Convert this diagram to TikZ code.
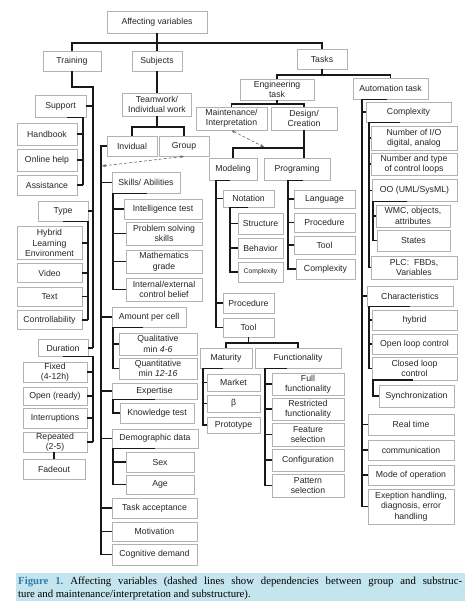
\documentclass[tikz,border=0pt]{standalone}
\usepackage{fontspec}
\setmainfont{Liberation Serif}
\newfontfamily\boxfont{Liberation Sans}
\usetikzlibrary{arrows.meta}
\definecolor{capbg}{RGB}{196,228,238}
\definecolor{capblue}{RGB}{50,125,165}
\newcommand\bx[6]{\node[bx,minimum width=#4pt,minimum height=#5pt] (#1) at (#2,#3) {#6};}
\begin{document}
\begin{tikzpicture}[x=1pt,y=-1pt,
  bx/.style={draw=black!30,line width=0.8pt,fill=white,inner sep=0.5pt,align=center,font=\boxfont\fontsize{8.7}{10.5}\selectfont,text=black!85},
  ln/.style={line width=1.4pt,black!90},
  dep/.style={densely dashed,line width=0.6pt,black!60,{Stealth[length=4pt,width=3pt]}-{Stealth[length=4pt,width=3pt]}}]
\useasboundingbox (0,0) rectangle (474,602);
\fill[white] (0,0) rectangle (474,602);
% top
\bx{aff}{157}{22}{100}{22}{Affecting variables}
\bx{training}{72}{61}{58}{20}{Training}
\bx{subjects}{157}{61}{50}{20}{Subjects}
\bx{tasks}{322}{59}{50}{20}{Tasks}
% training column
\bx{support}{60.5}{106}{51}{22}{Support}
\bx{handbook}{47}{134}{60}{22}{Handbook}
\bx{online}{47}{160}{60}{22}{Online help}
\bx{assist}{47}{185}{60}{20}{Assistance}
\bx{type}{63}{211}{50}{20}{Type}
\bx{hybrid}{49.5}{243}{65}{33}{Hybrid\\Learning\\Environment}
\bx{video}{49.5}{273}{65}{19}{Video}
\bx{text}{49.5}{296.5}{65}{19}{Text}
\bx{control}{49.5}{320}{65}{19}{Controllability}
\bx{duration}{63}{348}{50}{17}{Duration}
\bx{fixed}{55}{372}{64}{20}{Fixed\\(4-12h)}
\bx{open}{55}{396}{64}{18}{Open (ready)}
\bx{interr}{55}{418}{64}{20}{Interruptions}
\bx{repeated}{55}{442}{64}{20}{Repeated\\(2-5)}
\bx{fadeout}{54}{469}{62}{20}{Fadeout}
% subjects column
\bx{team}{157}{104.5}{69}{23}{Teamwork/\\Individual work}
\bx{invid}{132}{146}{50}{20}{Invidual}
\bx{group}{184}{146}{50}{20}{Group}
\bx{skills}{146}{182.5}{68}{21}{Skills/ Abilities}
\bx{intel}{163}{209}{78}{20}{Intelligence test}
\bx{problem}{164}{233.5}{76}{23}{Problem solving\\skills}
\bx{math}{164}{261.5}{76}{23}{Mathematics\\grade}
\bx{internal}{164}{289.5}{76}{23}{Internal/external\\control belief}
\bx{amount}{149}{317}{74}{20}{Amount per cell}
\bx{qual}{158}{344}{78}{22}{Qualitative\\min \textit{4-6}}
\bx{quant}{158}{368.5}{78}{21}{Quantitative\\min \textit{12-16}}
\bx{expertise}{154.5}{391}{85}{16}{Expertise}
\bx{knowledge}{157}{413}{74}{20}{Knowledge test}
\bx{demo}{155}{438.5}{86}{19}{Demographic data}
\bx{sex}{160}{462}{68}{20}{Sex}
\bx{age}{160}{484.5}{68}{19}{Age}
\bx{taskacc}{154.5}{508}{85}{20}{Task acceptance}
\bx{motiv}{154.5}{531.5}{85}{19}{Motivation}
\bx{cogn}{154.5}{554.5}{85}{21}{Cognitive demand}
% tasks
\bx{eng}{277}{89.5}{74}{21}{Engineering\\task}
\bx{auto}{390.5}{88.5}{75}{21}{Automation task}
\bx{maint}{231.5}{118.5}{71}{23}{Maintenance/\\Interpretation}
\bx{design}{304}{118.5}{66}{23}{Design/\\Creation}
\bx{modeling}{233}{169}{48}{22}{Modeling}
\bx{prog}{297}{169}{66}{22}{Programing}
\bx{notation}{248.5}{198.5}{51}{17}{Notation}
\bx{structure}{260.5}{223.5}{45}{21}{Structure}
\bx{behavior}{260.5}{248}{45}{20}{Behavior}
\node[bx,minimum width=45pt,minimum height=20pt,font=\boxfont\fontsize{6.8}{8}\selectfont] (ncompl) at (260.5,272) {Complexity};
\bx{procM}{248.5}{303}{51}{20}{Procedure}
\bx{toolM}{248.5}{327.5}{51}{19}{Tool}
\bx{maturity}{226}{358}{52}{20}{Maturity}
\bx{func}{298}{358}{86}{20}{Functionality}
\bx{market}{233.5}{382.5}{53}{17}{Market}
\bx{beta}{233.5}{403.5}{53}{17}{β}
\bx{proto}{233.5}{425}{53}{16}{Prototype}
\bx{full}{308}{384}{72}{22}{Full\\functionality}
\bx{restr}{308}{409}{72}{22}{Restricted\\functionality}
\bx{feat}{308}{434.5}{72}{23}{Feature\\selection}
\bx{config}{308}{460}{72}{22}{Configuration}
\bx{pattern}{308}{485.5}{72}{23}{Pattern\\selection}
\bx{lang}{324.5}{199}{61}{18}{Language}
\bx{procP}{324.5}{222.5}{61}{19}{Procedure}
\bx{toolP}{324.5}{245}{61}{18}{Tool}
\bx{pcompl}{325.5}{269}{59}{20}{Complexity}
% automation
\bx{compl}{408.5}{112}{85}{20}{Complexity}
\bx{nio}{414}{138}{86}{24}{Number of I/O\\digital, analog}
\bx{ntype}{414}{164}{86}{22}{Number and type\\of control loops}
\bx{oo}{414.5}{190.5}{85}{22}{OO (UML/SysML)}
\bx{wmc}{413}{216}{74}{22}{WMC, objects,\\attributes}
\bx{states}{413.5}{240.5}{73}{21}{States}
\bx{plc}{414}{267.5}{86}{23}{PLC:~ FBDs,\\Variables}
\bx{charac}{410}{296}{86}{20}{Characteristics}
\bx{hybridA}{414.5}{320}{85}{20}{hybrid}
\bx{openl}{414.5}{344}{85}{20}{Open loop control}
\bx{closedl}{414.5}{368.5}{85}{23}{Closed loop\\control}
\bx{sync}{416.5}{396}{75}{22}{Synchronization}
\bx{realt}{411}{424.5}{86}{21}{Real time}
\bx{comm}{411}{450}{86}{20}{communication}
\bx{mode}{411}{475}{86}{20}{Mode of operation}
\bx{exep}{411}{506.5}{86}{35}{Exeption handling,\\diagnosis, error\\handling}
% coordinates
\coordinate (topbus) at (0,43);
\coordinate (tbus) at (0,75);
\coordinate (teambus) at (0,127);
\coordinate (engbus) at (0,104);
\coordinate (dbus) at (0,148);
\coordinate (toolbus) at (0,343);
\coordinate (tA) at (93,87);
\coordinate (sA) at (67,117.5);  \coordinate (sB) at (83,117.5);
\coordinate (yA) at (63,221.5);  \coordinate (yB) at (88,221.5);
\coordinate (uA) at (63,356.5);  \coordinate (uB) at (93,356.5);
\coordinate (sT) at (101,146);
\coordinate (kT) at (113,193.5); \coordinate (kE) at (147,193.5);
\coordinate (aT) at (113,327.5); \coordinate (aE) at (143,327.5);
\coordinate (xT) at (113,399.5); \coordinate (xE) at (155,399.5);
\coordinate (gT) at (113,448.5); \coordinate (gE) at (155,448.5);
\coordinate (mT) at (216,180.5); \coordinate (mE) at (230,180.5);
\coordinate (nT) at (230,207.5); \coordinate (nE) at (248,207.5);
\coordinate (pT) at (288,180.5); \coordinate (pE) at (303,180.5);
\coordinate (rT) at (203,368.5); \coordinate (rE) at (223,368.5);
\coordinate (fT) at (265,368.5); \coordinate (fE) at (287,368.5);
\coordinate (auT) at (362,99.5); \coordinate (auE) at (387,99.5);
\coordinate (cT) at (369,122.5); \coordinate (cE) at (400,122.5);
\coordinate (oT) at (373,201.5); \coordinate (oE) at (407,201.5);
\coordinate (hT) at (369,306.5); \coordinate (hE) at (410,306.5);
\coordinate (lT) at (373,380);   \coordinate (lE) at (413,380);
\coordinate (dG) at (102,166);
\coordinate (dM) at (264,147);
% connectors: top
\draw[ln] (aff.south) -- (subjects.north);
\draw[ln] (training.north) -- (training.north |- topbus) -- (tasks.north |- topbus) -- (tasks.north);
% training
\draw[ln] (training.south) |- (tA) -- (tA |- duration.east);
\foreach \c in {support,type,duration} \draw[ln] (\c.east) -- (\c.east -| tA);
\draw[ln] (sA) -- (sB) -- (sB |- assist.east);
\foreach \c in {handbook,online,assist} \draw[ln] (\c.east) -- (\c.east -| sB);
\draw[ln] (yA) -- (yB) -- (yB |- control.east);
\foreach \c in {hybrid,video,text,control} \draw[ln] (\c.east) -- (\c.east -| yB);
\draw[ln] (uA) -- (uB) -- (uB |- repeated.east);
\foreach \c in {fixed,open,interr,repeated} \draw[ln] (\c.east) -- (\c.east -| uB);
\draw[ln] (fadeout.north) -- (fadeout.north |- repeated.south);
% subjects
\draw[ln] (subjects.south) -- (team.north);
\draw[ln] (team.south) -- (team.south |- teambus);
\draw[ln] (invid.north) -- (invid.north |- teambus) -- (group.north |- teambus) -- (group.north);
\draw[ln] (invid.west) -- (sT) |- (cogn.west);
\foreach \c in {skills,amount,expertise,demo,taskacc,motiv} \draw[ln] (\c.west) -- (\c.west -| sT);
\draw[ln] (kE) -- (kT) |- (internal.west);
\foreach \c in {intel,problem,math} \draw[ln] (\c.west) -- (\c.west -| kT);
\draw[ln] (aE) -- (aT) |- (quant.west);
\draw[ln] (qual.west) -- (qual.west -| aT);
\draw[ln] (xE) -- (xT) |- (knowledge.west);
\draw[ln] (gE) -- (gT) |- (age.west);
\draw[ln] (sex.west) -- (sex.west -| gT);
% tasks
\draw[ln] (tasks.south) -- (tasks.south |- tbus);
\draw[ln] (eng.north) -- (eng.north |- tbus) -- (auto.north |- tbus) -- (auto.north);
\draw[ln] (eng.south) -- (eng.south |- engbus);
\draw[ln] (maint.north) -- (maint.north |- engbus) -- (design.north |- engbus) -- (design.north);
\draw[ln] (design.south) -- (design.south |- prog.north);
\draw[ln] (modeling.north) -- (modeling.north |- dbus) -- (design.south |- dbus);
\draw[ln] (mE) -- (mT) |- (toolM.west);
\foreach \c in {notation,procM} \draw[ln] (\c.west) -- (\c.west -| mT);
\draw[ln] (nE) -- (nT) |- (ncompl.west);
\foreach \c in {structure,behavior} \draw[ln] (\c.west) -- (\c.west -| nT);
\draw[ln] (pE) -- (pT) |- (pcompl.west);
\foreach \c in {lang,procP,toolP} \draw[ln] (\c.west) -- (\c.west -| pT);
\draw[ln] (toolM.south) -- (toolM.south |- toolbus);
\draw[ln] (maturity.north) -- (maturity.north |- toolbus) -- (func.north |- toolbus) -- (func.north);
\draw[ln] (rE) -- (rT) |- (proto.west);
\foreach \c in {market,beta} \draw[ln] (\c.west) -- (\c.west -| rT);
\draw[ln] (fE) -- (fT) |- (pattern.west);
\foreach \c in {full,restr,feat,config} \draw[ln] (\c.west) -- (\c.west -| fT);
% automation
\draw[ln] (auE) -- (auT) |- (exep.west);
\foreach \c in {compl,charac,realt,comm,mode} \draw[ln] (\c.west) -- (\c.west -| auT);
\draw[ln] (cE) -- (cT) |- (plc.west);
\foreach \c in {nio,ntype,oo} \draw[ln] (\c.west) -- (\c.west -| cT);
\draw[ln] (oE) -- (oT) |- (states.west);
\draw[ln] (wmc.west) -- (wmc.west -| oT);
\draw[ln] (hE) -- (hT) |- (closedl.west);
\foreach \c in {hybridA,openl} \draw[ln] (\c.west) -- (\c.west -| hT);
\draw[ln] (lE) -- (lT) |- (sync.west);
% dependencies
\draw[dep] (group.south) -- (dG);
\draw[dep] (maint.south) -- (dM);
% caption
\fill[capbg] (16,573) rectangle (465,601);
\node[anchor=base west,inner sep=0pt,font=\fontsize{10.75}{12}\selectfont\frenchspacing] (cap1) at (18,584.5) {\hbox to 444pt{{\color{capblue}\bfseries Figure 1.} Affecting variables (dashed lines show dependencies between group and substruc-}};
\node[anchor=base west,inner sep=0pt,font=\fontsize{10.75}{12}\selectfont] (cap2) at (18,597) {ture and maintenance/interpretation and substructure).};
\end{tikzpicture}
\end{document}
